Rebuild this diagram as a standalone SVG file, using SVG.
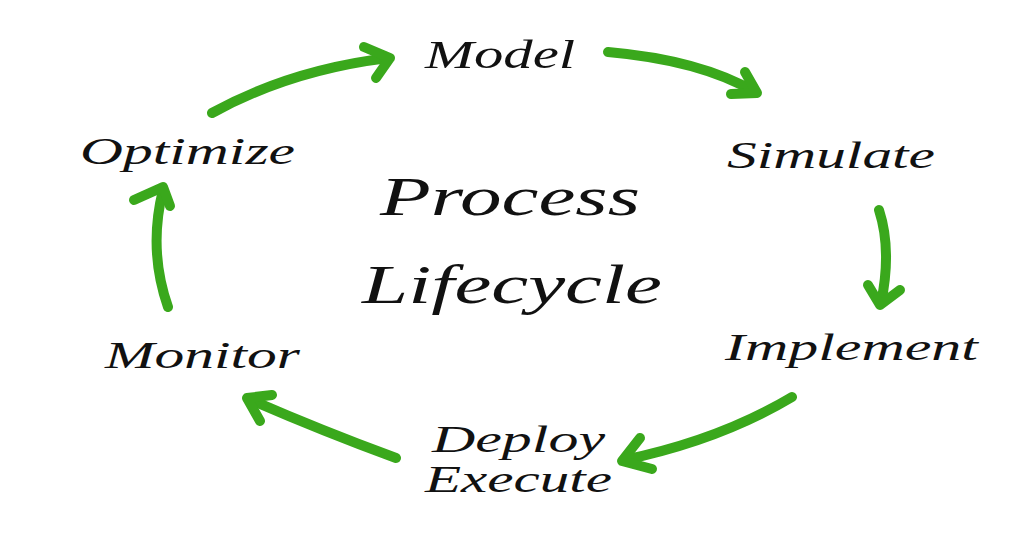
<svg xmlns="http://www.w3.org/2000/svg" width="1022" height="542" viewBox="0 0 1022 542">
<style>
.lbl{font-family:"Liberation Serif","Times New Roman",serif;font-style:italic;fill:#111;}
.arr{fill:none;stroke:#3aa81c;stroke-width:10;stroke-linecap:round;stroke-linejoin:round;}
</style>
<rect width="1022" height="542" fill="#fff"/>
<g id="connectors">
<path class="arr" d="M212,113 Q290,70 388,58"/><polyline class="arr" points="364,47 390,58 376,78"/>
<path class="arr" d="M608,52 Q700,60 755,92"/><polyline class="arr" points="745,72 757,93 731,94"/>
<path class="arr" d="M879,210 Q892,250 881,303"/><polyline class="arr" points="868,285 880,305 900,290"/>
<path class="arr" d="M792,397 Q720,440 624,460"/><polyline class="arr" points="640,438 622,461 652,469"/>
<path class="arr" d="M396,458 Q320,430 249,399"/><polyline class="arr" points="272,395 247,398 260,421"/>
<path class="arr" d="M168,307 Q148,250 163,190"/><polyline class="arr" points="134,200 163,187 170,206"/>
</g>
<g id="center"><text class="lbl" x="380" y="215" font-size="54" textLength="260" lengthAdjust="spacingAndGlyphs">Process</text>
<text class="lbl" x="362" y="303" font-size="54" textLength="300" lengthAdjust="spacingAndGlyphs">Lifecycle</text></g>
<g id="model"><text class="lbl" x="425" y="68" font-size="40" textLength="150" lengthAdjust="spacingAndGlyphs">Model</text></g>
<g id="simulate"><text class="lbl" x="727" y="168" font-size="38" textLength="208" lengthAdjust="spacingAndGlyphs">Simulate</text></g>
<g id="implement"><text class="lbl" x="725" y="360" font-size="38" textLength="253" lengthAdjust="spacingAndGlyphs">Implement</text></g>
<g id="deploy"><text class="lbl" x="432" y="452" font-size="38" textLength="173" lengthAdjust="spacingAndGlyphs">Deploy</text>
<text class="lbl" x="425" y="492" font-size="38" textLength="187" lengthAdjust="spacingAndGlyphs">Execute</text></g>
<g id="monitor"><text class="lbl" x="105" y="368" font-size="38" textLength="195" lengthAdjust="spacingAndGlyphs">Monitor</text></g>
<g id="optimize"><text class="lbl" x="80" y="164" font-size="38" textLength="215" lengthAdjust="spacingAndGlyphs">Optimize</text></g>
</svg>
